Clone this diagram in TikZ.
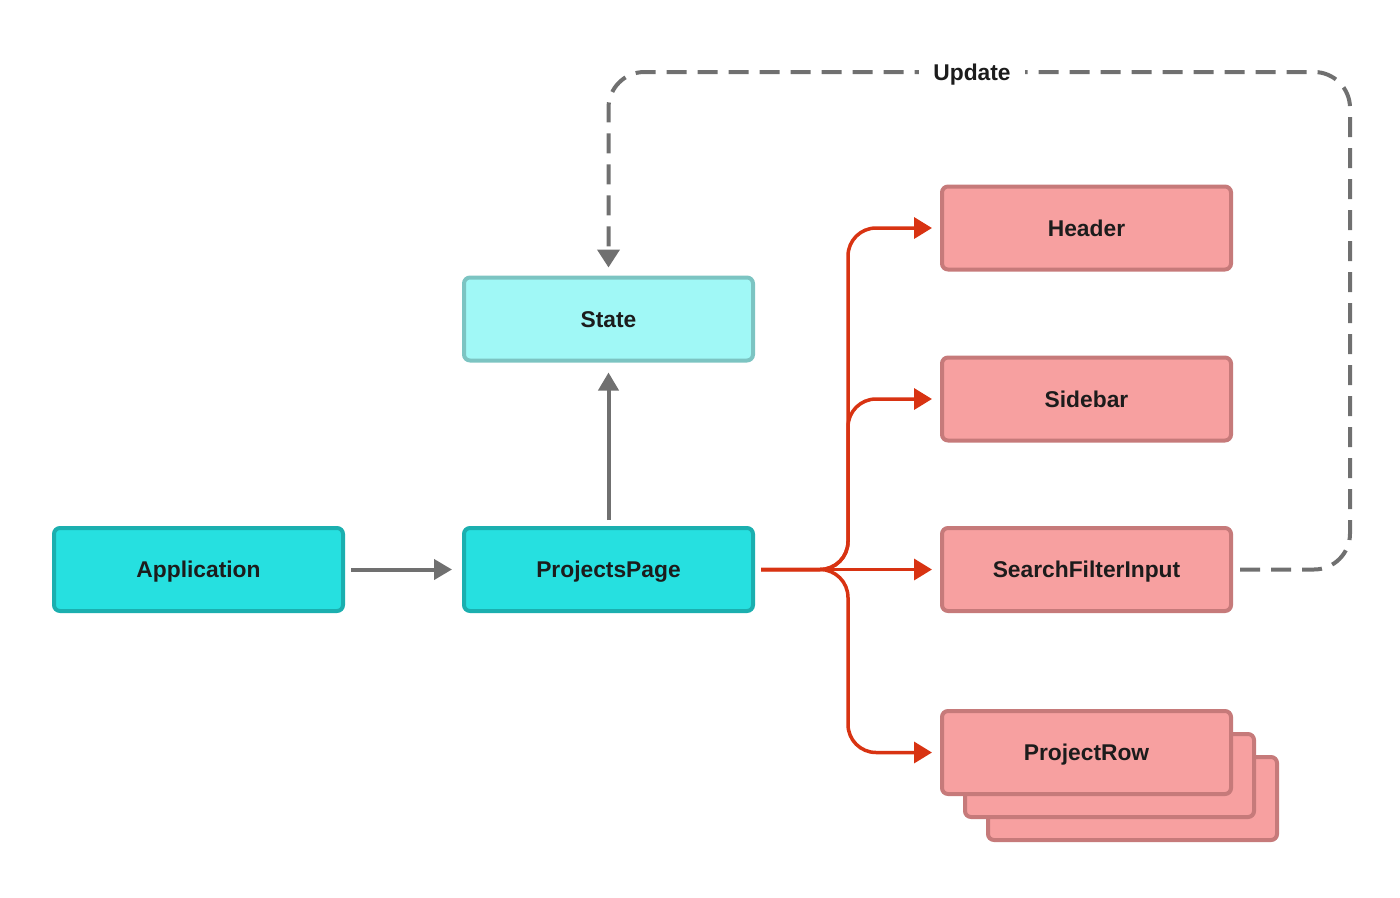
\documentclass[tikz,border=0pt]{standalone}
\usepackage{fontspec}
\setmainfont{Liberation Sans}
\usetikzlibrary{arrows.meta, positioning}
\definecolor{appfill}{HTML}{26E0E0}
\definecolor{appline}{HTML}{1BAFAF}
\definecolor{statefill}{HTML}{A0F8F6}
\definecolor{stateline}{HTML}{7CC4C2}
\definecolor{compfill}{HTML}{F7A0A0}
\definecolor{compline}{HTML}{C67A7A}
\definecolor{flowred}{HTML}{D83312}
\definecolor{flowgray}{HTML}{707070}
\definecolor{labeltext}{HTML}{1C1C1C}
\tikzset{
  labelfont/.style = {text=labeltext, font=\fontsize{22.8}{26}\selectfont\bfseries,
    text height=16.4pt, text depth=0pt},
  box/.style = {draw, line width=4pt, rounded corners=6pt, minimum width=289pt,
    minimum height=83pt, inner sep=0pt, labelfont},
  appbox/.style = {box, fill=appfill, draw=appline},
  statebox/.style = {box, fill=statefill, draw=stateline},
  compbox/.style = {box, fill=compfill, draw=compline},
  grayarrow/.style = {draw=flowgray, line width=4pt,
    -{Triangle[length=18pt, width=20pt]}, shorten <=6pt, shorten >=10pt},
  redarrow/.style = {draw=flowred, line width=3.5pt,
    -{Triangle[length=18pt, width=21pt]}, shorten <=6pt, shorten >=8pt},
  dasharrow/.style = {draw=flowgray, line width=4pt, dash pattern=on 20pt off 11pt,
    -{Triangle[length=18pt, width=22pt]}, shorten <=7pt, shorten >=8pt}
}
\begin{document}
\begin{tikzpicture}[x=1pt, y=-1pt]
\useasboundingbox (0,0) rectangle (1400,897);
\node[appbox] (app) at (198.5,569.5) {Application};
\node[appbox] (page) at (608.5,569.5) {ProjectsPage};
\node[statebox] (state) at (608.5,319) {State};
\node[compbox] (header) at (1086.5,228) {Header};
\node[compbox] (sidebar) at (1086.5,399) {Sidebar};
\node[compbox] (search) at (1086.5,569.5) {SearchFilterInput};
\node[compbox] (row3) at (1132.5,798.5) {};
\node[compbox] (row2) at (1109.5,775.5) {};
\node[compbox] (row) at (1086.5,752.5) {ProjectRow};
\coordinate (fork) at (848,569.5);

\draw[grayarrow] (app.east) -- (page.west);
\draw[grayarrow] (page.north) -- (state.south);
\draw[redarrow] (page.east) -- (search.west);
\draw[redarrow, rounded corners=28pt] (page.east) -- (fork) |- (header.west);
\draw[redarrow, rounded corners=28pt] (page.east) -- (fork) |- (sidebar.west);
\draw[redarrow, rounded corners=28pt] (page.east) -- (fork) |- (row.west);
\draw[dasharrow, rounded corners=36pt] (search.east) -| (1350,72) -| (state.north);
\node[fill=white, inner xsep=14pt, labelfont] (update) at (972,72) {Update};
\end{tikzpicture}
\end{document}
